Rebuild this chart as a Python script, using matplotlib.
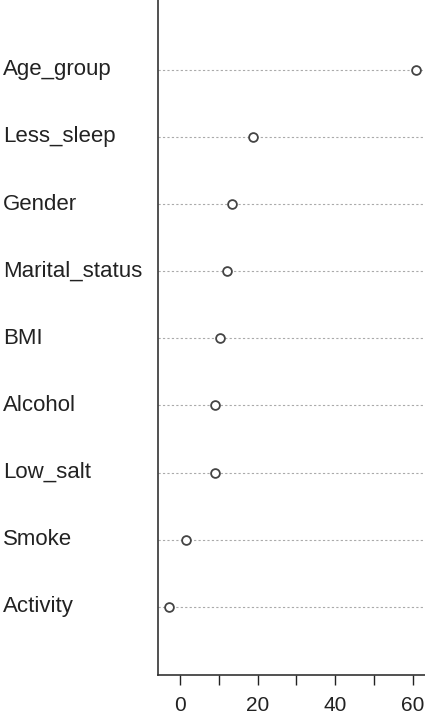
import matplotlib
matplotlib.use("Agg")
import matplotlib.pyplot as plt

plt.rcParams["font.family"] = ["Liberation Sans", "DejaVu Sans"]

variables = ["Age_group", "Less_sleep", "Gender", "Marital_status", "BMI",
             "Alcohol", "Low_salt", "Smoke", "Activity"]
importance = [61.0, 18.8, 13.3, 12.0, 10.4, 8.9, 8.9, 1.6, -2.9]

fig = plt.figure(figsize=(4.25, 7.21), dpi=100)
ax = fig.add_axes([0.372, 0.064, 0.638, 0.936])

n = len(variables)
ypos = list(range(n, 0, -1))
for y in ypos:
    ax.axhline(y, color="#aaaaaa", linestyle=(0, (2, 2)), linewidth=0.8, zorder=1)
ax.scatter(importance, ypos, s=40, facecolors="white", edgecolors="#444444",
           linewidths=1.3, zorder=3)

ax.set_xlim(-5.7, 64.3)
ax.set_ylim(-0.013, n + 1.04)
ax.set_yticks([])
ax.set_xticks(range(0, 70, 10))
ax.set_xticklabels(["0", "", "20", "", "40", "", "60"])
ax.tick_params(axis="x", labelsize=15, length=7, width=1, pad=8, colors="#222222")
for s in ax.spines.values():
    s.set_color("#333333")
    s.set_linewidth(1.2)
ax.spines["top"].set_visible(False)

# row labels on the left margin, outside the axes
for name, y in zip(variables, ypos):
    yfig = ax.transData.transform((0, y))[1] / fig.bbox.height
    fig.text(3 / 425, yfig, name, fontsize=16, ha="left", va="center", color="#222222")

fig.savefig("out.png", dpi=100)
